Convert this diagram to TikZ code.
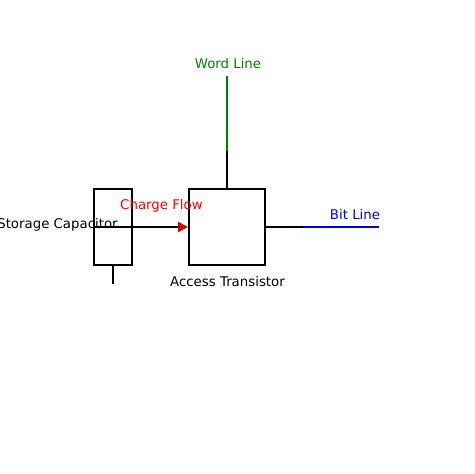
\documentclass[tikz,border=0pt]{standalone}
\usepackage{fontspec}
\setmainfont{DejaVu Sans}
\usetikzlibrary{arrows.meta}
\begin{document}
\begin{tikzpicture}[x=0.75pt,y=-0.75pt,
  wire/.style={line width=1.5pt},
  box/.style={draw,line width=1.5pt,inner sep=0pt},
  lbl/.style={inner sep=0pt,font=\fontsize{10}{12}\selectfont}]
\useasboundingbox (0,0) rectangle (474,474);
\node[box,minimum width=28.5pt,minimum height=57pt] (cap) at (113,227) {};
\node[box,minimum width=57pt,minimum height=57pt] (tr) at (227,227) {};
\coordinate (wl1) at (227,151);
\coordinate (wl2) at (227,76);
\coordinate (bl1) at (303,227);
\coordinate (bl2) at (379,227);
\coordinate (capb) at (113,284);
\draw[wire] (tr.north) -- (wl1);
\draw[wire,green!50!black] (wl1) -- (wl2);
\draw[wire] (tr.east) -- (bl1);
\draw[wire,blue] (bl1) -- (bl2);
\draw[wire] (cap.south) -- (capb);
\draw[wire,-{Triangle[length=7.5pt,width=7.5pt,color=red!80!black]}] (cap.west) -- (tr.west);
\node[lbl,text=green!50!black] (wlt) at (228,63.5) {Word Line};
\node[lbl,text=blue] (blt) at (355,214.5) {Bit Line};
\node[lbl,text=red] (cft) at (161.5,205.5) {Charge Flow};
\node[lbl] (sct) at (57.5,224.5) {Storage Capacitor};
\node[lbl] (att) at (227.5,281.5) {Access Transistor};
\end{tikzpicture}
\end{document}
